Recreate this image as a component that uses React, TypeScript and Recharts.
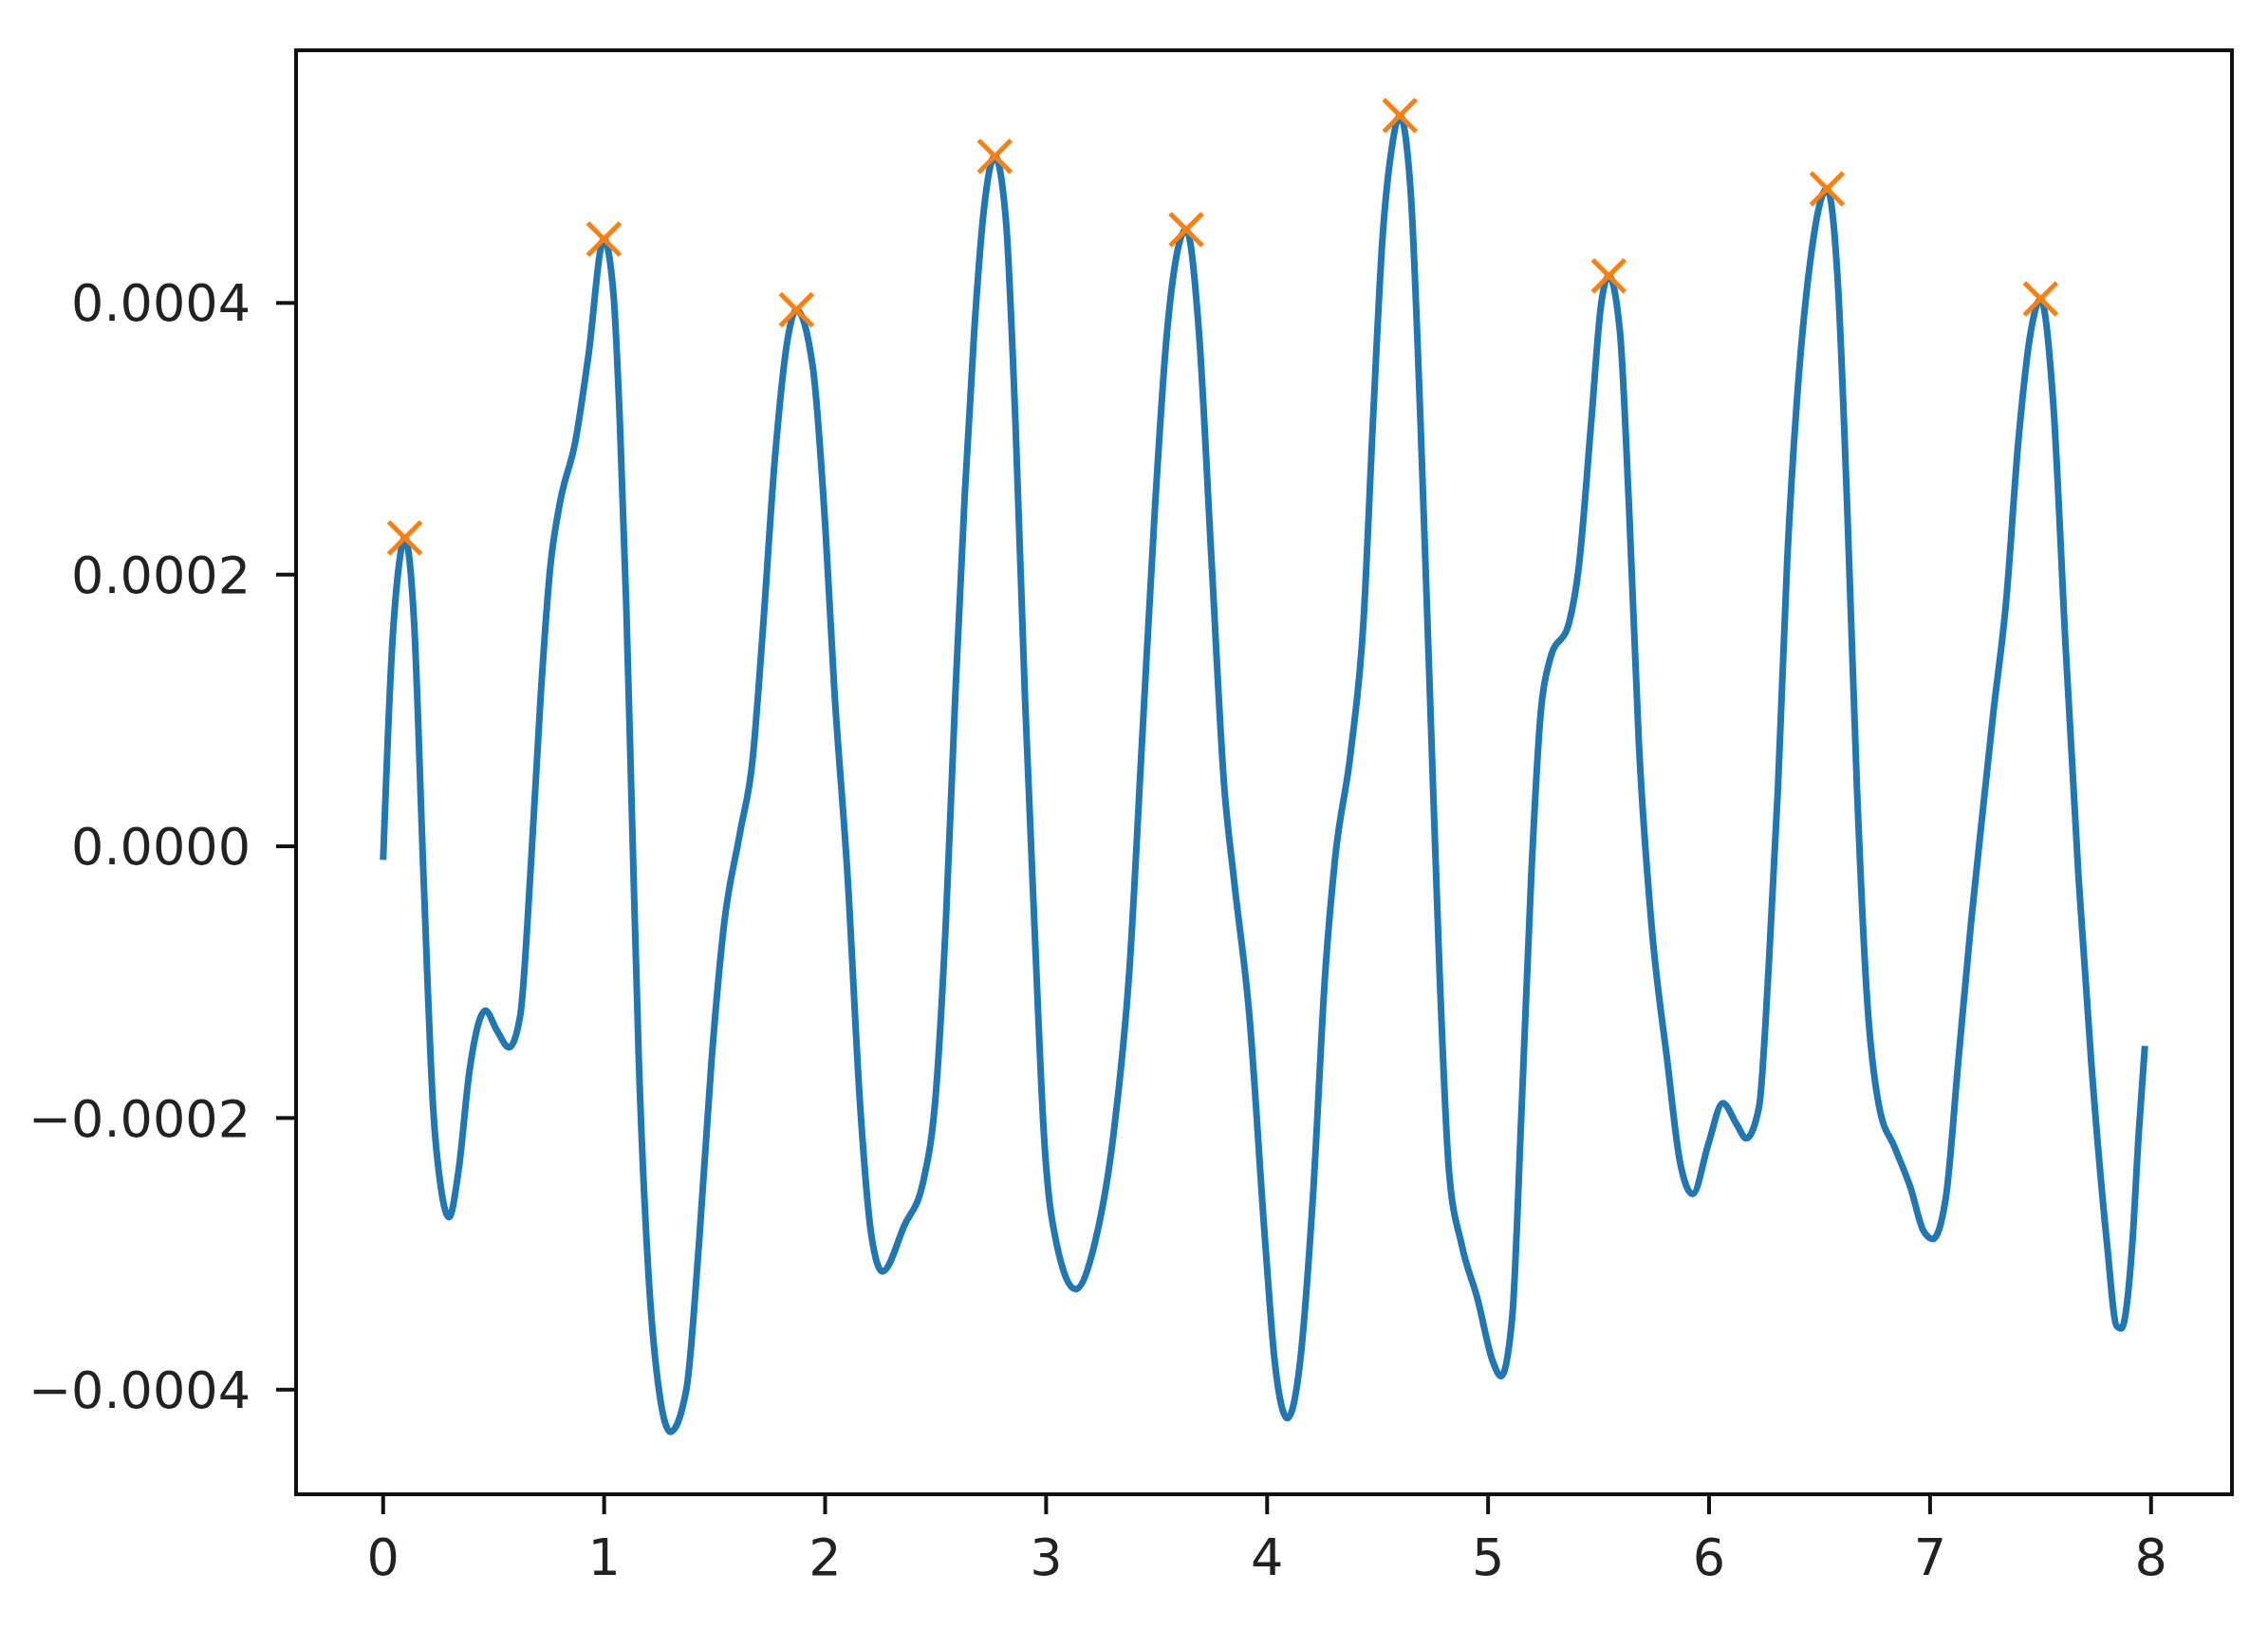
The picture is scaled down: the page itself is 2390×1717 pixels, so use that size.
import { ComposedChart, Line, Scatter, XAxis, YAxis, ReferenceArea } from "recharts";

// time axis (s) and signal
const tValues = [
  0.0, 0.04, 0.07, 0.098, 0.14, 0.183, 0.226, 0.262, 0.298, 0.341, 0.391, 0.463, 0.513, 0.57, 0.62, 0.67,
  0.713, 0.756, 0.799, 0.871, 0.928, 0.999, 1.042, 1.071, 1.1, 1.128, 1.157, 1.2, 1.243, 1.3, 1.372, 1.429,
  1.486, 1.543, 1.615, 1.672, 1.715, 1.773, 1.83, 1.87, 1.944, 2.002, 2.04, 2.102, 2.159, 2.209, 2.259,
  2.359, 2.445, 2.503, 2.546, 2.589, 2.632, 2.675, 2.718, 2.768, 2.818, 2.861, 2.904, 2.947, 2.99, 3.048,
  3.133, 3.219, 3.305, 3.377, 3.434, 3.491, 3.548, 3.634, 3.691, 3.748, 3.806, 3.849, 3.92, 3.992, 4.035,
  4.092, 4.149, 4.207, 4.264, 4.307, 4.379, 4.436, 4.479, 4.522, 4.565, 4.601, 4.65, 4.694, 4.737, 4.78,
  4.823, 4.88, 4.952, 5.023, 5.059, 5.109, 5.152, 5.195, 5.238, 5.281, 5.367, 5.41, 5.467, 5.51, 5.546,
  5.596, 5.639, 5.682, 5.739, 5.811, 5.868, 5.926, 5.997, 6.062, 6.126, 6.168, 6.226, 6.269, 6.312, 6.354,
  6.397, 6.455, 6.534, 6.583, 6.626, 6.669, 6.712, 6.77, 6.841, 6.913, 6.97, 7.013, 7.071, 7.128, 7.185,
  7.228, 7.286, 7.343, 7.4, 7.457, 7.5, 7.557, 7.614, 7.672, 7.729, 7.801, 7.844, 7.865, 7.915, 7.944, 7.972,
];

const signal = [
  -0.1e-4, 1.45e-4, 2.05e-4, 2.27e-4, 1.65e-4, -0.23e-4, -1.92e-4, -2.52e-4, -2.73e-4, -2.39e-4, -1.65e-4,
  -1.21e-4, -1.35e-4, -1.48e-4, -1.25e-4, -0.1e-4, 1.11e-4, 2.05e-4, 2.52e-4, 2.99e-4, 3.6e-4, 4.47e-4,
  4.07e-4, 3.13e-4, 1.78e-4, 0.1e-4, -1.58e-4, -3.13e-4, -3.94e-4, -4.31e-4, -4.0e-4, -2.93e-4, -1.58e-4,
  -0.57e-4, 0.1e-4, 0.64e-4, 1.52e-4, 2.86e-4, 3.73e-4, 3.95e-4, 3.53e-4, 2.32e-4, 1.2e-4, -0.23e-4,
  -1.92e-4, -2.86e-4, -3.13e-4, -2.79e-4, -2.46e-4, -1.78e-4, -0.57e-4, 1.11e-4, 2.59e-4, 3.8e-4, 4.68e-4,
  5.08e-4, 4.61e-4, 3.13e-4, 1.11e-4, -0.57e-4, -2.12e-4, -2.93e-4, -3.26e-4, -2.93e-4, -2.12e-4, -0.91e-4,
  0.77e-4, 2.45e-4, 3.8e-4, 4.54e-4, 3.8e-4, 2.12e-4, 0.44e-4, -0.23e-4, -1.25e-4, -2.93e-4, -3.8e-4,
  -4.21e-4, -3.8e-4, -2.59e-4, -0.91e-4, -0.1e-4, 0.7e-4, 1.65e-4, 3.13e-4, 4.47e-4, 5.15e-4, 5.38e-4,
  4.81e-4, 3.13e-4, 1.11e-4, -0.91e-4, -2.39e-4, -2.93e-4, -3.33e-4, -3.8e-4, -3.9e-4, -3.47e-4, -1.92e-4,
  -0.23e-4, 0.98e-4, 1.38e-4, 1.65e-4, 2.05e-4, 3.13e-4, 3.97e-4, 4.2e-4, 3.8e-4, 2.45e-4, 0.77e-4,
  -0.57e-4, -1.58e-4, -2.32e-4, -2.56e-4, -2.19e-4, -1.89e-4, -2.05e-4, -2.15e-4, -1.92e-4, -0.91e-4,
  0.44e-4, 2.12e-4, 3.27e-4, 4.27e-4, 4.84e-4, 4.14e-4, 2.45e-4, 0.44e-4, -1.05e-4, -1.92e-4, -2.22e-4,
  -2.52e-4, -2.83e-4, -2.89e-4, -2.59e-4, -1.58e-4, -0.57e-4, 0.1e-4, 0.98e-4, 1.78e-4, 2.99e-4, 3.8e-4,
  4.03e-4, 3.27e-4, 1.45e-4, -0.23e-4, -1.58e-4, -2.93e-4, -3.53e-4, -3.55e-4, -2.93e-4, -2.12e-4, -1.47e-4,
];

// detected peaks (orange x markers)
const peakT = [0.098, 0.999, 1.87, 2.768, 3.634, 4.601, 5.546, 6.534, 7.5];
const peakValues = [2.27e-4, 4.47e-4, 3.95e-4, 5.08e-4, 4.54e-4, 5.38e-4, 4.2e-4, 4.84e-4, 4.03e-4];

const xTicks = [0, 1, 2, 3, 4, 5, 6, 7, 8];
const yTicks = [-0.0004, -0.0002, 0, 0.0002, 0.0004];

const X_DOMAIN: [number, number] = [-0.394, 8.366];
const Y_DOMAIN: [number, number] = [-0.000477, 0.000586];

const lineRows = tValues.map((x, i) => ({ x, y: signal[i] }));
const peakRows = peakT.map((x, i) => ({ x, y: peakValues[i] }));

const tickStyle = { fontFamily: "DejaVu Sans", fontSize: 54, fill: "#222" };

const formatY = (v: number) => {
  const s = Math.abs(v).toFixed(4);
  return v < 0 ? "\u2212" + s : s;
};

function XMark(props: any) {
  const { cx, cy } = props;
  const r = 17;
  return (
    <g stroke="#ff7f0e" strokeWidth={5}>
      <line x1={cx - r} y1={cy - r} x2={cx + r} y2={cy + r} />
      <line x1={cx - r} y1={cy + r} x2={cx + r} y2={cy - r} />
    </g>
  );
}

export default function App() {
  return (
    <div style={{ position: "absolute", left: 0, top: 0, background: "#fff" }}>
      <ComposedChart width={2390} height={1717} margin={{ top: 53, right: 38, bottom: 0, left: 0 }}>
        <XAxis
          type="number"
          dataKey="x"
          domain={X_DOMAIN}
          allowDataOverflow
          ticks={xTicks}
          height={142}
          tickSize={21}
          tickMargin={26}
          tick={tickStyle}
          axisLine={{ stroke: "#111", strokeWidth: 4 }}
          tickLine={{ stroke: "#111", strokeWidth: 4 }}
        />
        <YAxis
          type="number"
          dataKey="y"
          domain={Y_DOMAIN}
          allowDataOverflow
          ticks={yTicks}
          width={312}
          tickSize={21}
          tickMargin={27}
          tickFormatter={formatY}
          tick={tickStyle}
          axisLine={{ stroke: "#111", strokeWidth: 4 }}
          tickLine={{ stroke: "#111", strokeWidth: 4 }}
        />
        <ReferenceArea
          x1={X_DOMAIN[0]}
          x2={X_DOMAIN[1]}
          y1={Y_DOMAIN[0]}
          y2={Y_DOMAIN[1]}
          fill="none"
          stroke="#111"
          strokeWidth={4}
        />
        <Line
          data={lineRows}
          dataKey="y"
          type="monotone"
          stroke="#1f77b4"
          strokeWidth={7}
          dot={false}
          activeDot={false}
          isAnimationActive={false}
        />
        <Scatter data={peakRows} dataKey="y" shape={<XMark />} isAnimationActive={false} />
      </ComposedChart>
    </div>
  );
}
